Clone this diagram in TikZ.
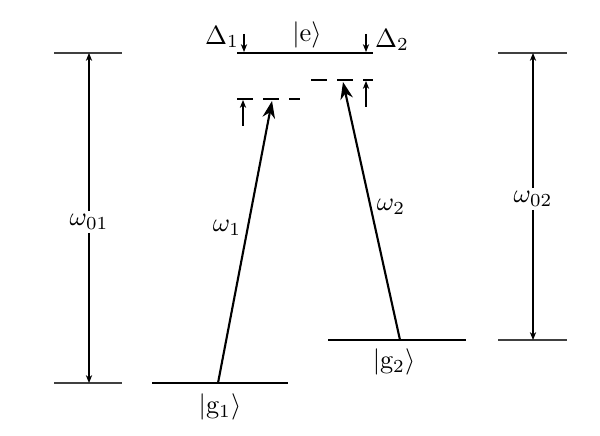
\documentclass[tikz,border=0pt]{standalone}
\usepackage{amsmath}
\usetikzlibrary{arrows.meta}
\begin{document}
\begin{tikzpicture}[>=Stealth,x=0.38pt,y=-0.38pt,
  level/.style={line width=1.1pt},
  virtual/.style={line width=0.45pt,dash pattern=on 6.1pt off 3.8pt},
  refline/.style={line width=0.4pt,black!75},
  small/.style={line width=0.4pt,-{Stealth[length=3pt,width=2.4pt]}},
  pump/.style={line width=0.8pt,-{Stealth[length=6.5pt,width=4.8pt]}},
  lbl/.style={inner sep=1pt,fill=white}]
  \useasboundingbox (0,0) rectangle (600,436);
  %
  % Levels
  \coordinate (e-l) at (237,53);  \coordinate (e-r) at (373,53);
  \coordinate (g1-l) at (152,383); \coordinate (g1-r) at (288,383);
  \coordinate (g2-l) at (328,340); \coordinate (g2-r) at (466,340);
  \draw[level] (e-l) -- (e-r);
  \draw[level] (g1-l) -- (g1-r);
  \draw[level] (g2-l) -- (g2-r);
  \node (e) at (307,35) {$|\mathrm{e}\rangle$};
  \node (g1) at (220,407) {$|\mathrm{g}_1\rangle$};
  \node (g2) at (394,362) {$|\mathrm{g}_2\rangle$};
  %
  % Virtual levels
  \coordinate (v1-l) at (237,99); \coordinate (v1-r) at (300,99);
  \coordinate (v2-l) at (311,80); \coordinate (v2-r) at (373,80);
  \draw[virtual] (v1-l) -- (v1-r);
  \draw[virtual] (v2-l) -- (v2-r);
  %
  % Detunings
  \node (d1) at (222,37) {$\Delta_1$};
  \node (d2) at (392,40) {$\Delta_2$};
  \coordinate (d1-top) at (244,34); \coordinate (d1-bot) at (244,52);
  \coordinate (d2-top) at (366,34); \coordinate (d2-bot) at (366,52);
  \draw[small] (d1-top) -- (d1-bot);
  \draw[small] (d2-top) -- (d2-bot);
  \coordinate (u1-bot) at (243,126); \coordinate (u1-top) at (243,100);
  \coordinate (u2-bot) at (366,107); \coordinate (u2-top) at (366,81);
  \draw[small] (u1-bot) -- (u1-top);
  \draw[small] (u2-bot) -- (u2-top);
  %
  % Pump fields
  \coordinate (p1-s) at (218,383); \coordinate (p1-e) at (272,101);
  \coordinate (p2-s) at (400,340); \coordinate (p2-e) at (343,82);
  \draw[pump] (p1-s) -- (p1-e);
  \draw[pump] (p2-s) -- (p2-e);
  \node (w1) at (227,228) {$\omega_1$};
  \node (w2) at (391,207) {$\omega_2$};
  %
  % Transition frequencies
  \draw[refline] (54,53) -- (122,53);
  \draw[refline] (54,383) -- (122,383);
  \draw[refline] (498,53) -- (567,53);
  \draw[refline] (498,340) -- (567,340);
  \coordinate (w01-top) at (89,53); \coordinate (w01-bot) at (89,383);
  \coordinate (w02-top) at (533,53); \coordinate (w02-bot) at (533,340);
  \node[lbl] (w01) at (89,222) {$\omega_{01}$};
  \node[lbl] (w02) at (533,199) {$\omega_{02}$};
  \draw[small] (w01) -- (w01-top);
  \draw[small] (w01) -- (w01-bot);
  \draw[small] (w02) -- (w02-top);
  \draw[small] (w02) -- (w02-bot);
  %
\end{tikzpicture}
\end{document}
